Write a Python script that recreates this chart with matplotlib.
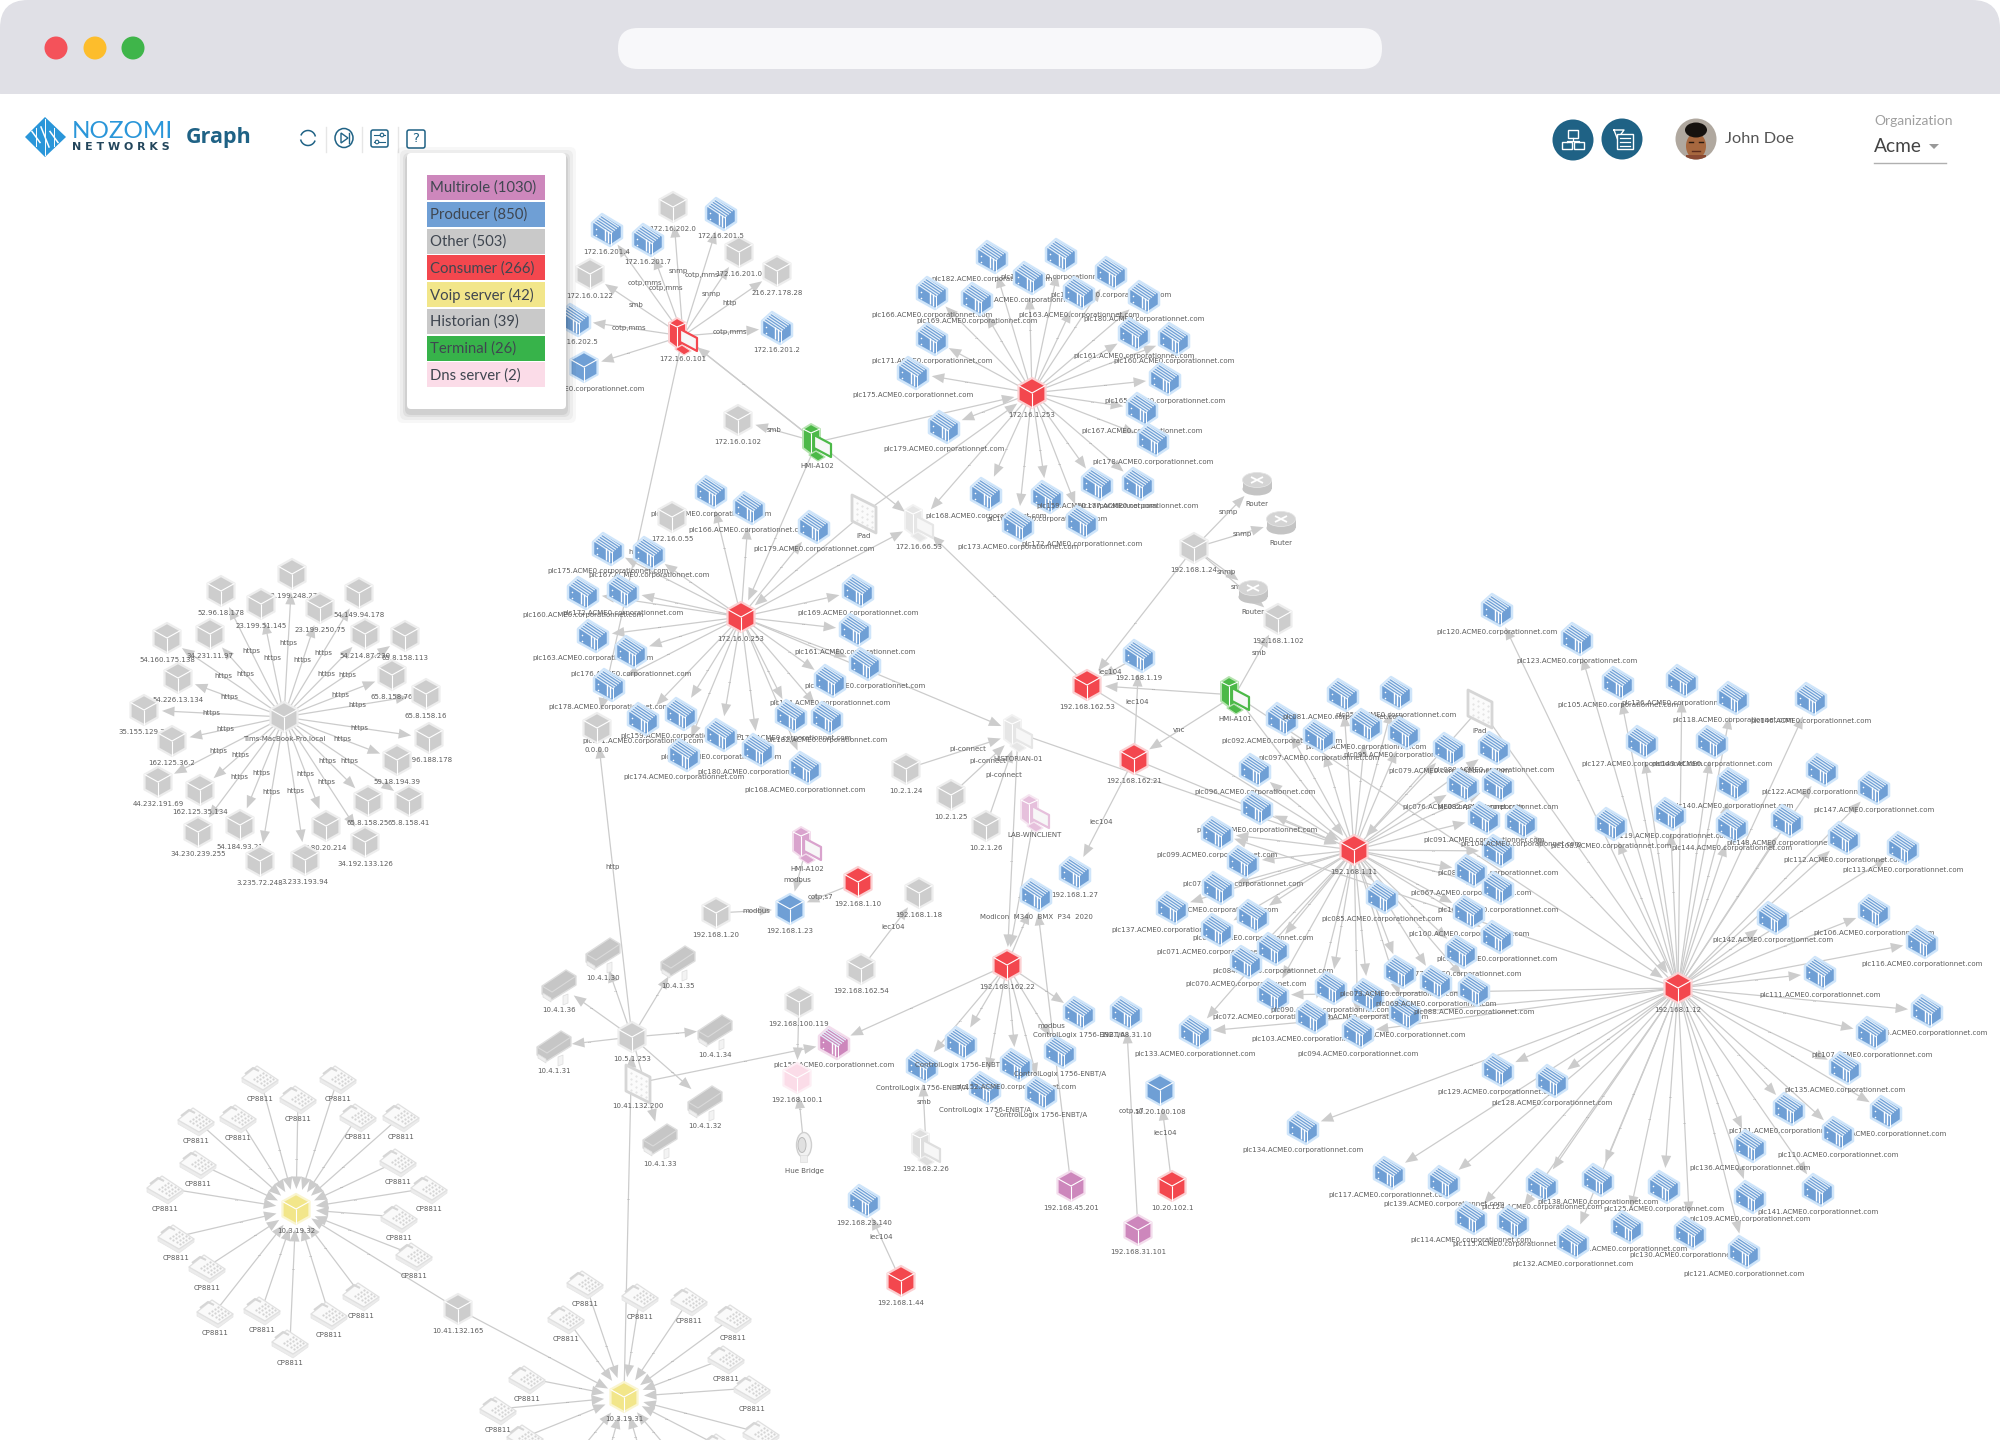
import matplotlib
matplotlib.use('Agg')
import matplotlib.pyplot as plt
from matplotlib.patches import Polygon, Circle, Ellipse, FancyBboxPatch, Rectangle
import numpy as np

# ---- data: (label, x, y), in pixels ----
D = '.ACME0.corporationnet.com'

legend_names = ['Multirole (1030)', 'Producer (850)', 'Other (503)', 'Consumer (266)',
                'Voip server (42)', 'Historian (39)', 'Terminal (26)', 'Dns server (2)']
legend_colors = ['#cd87bc', '#6f9fd5', '#c9c9c9', '#f3474e', '#f2e68a', '#c9c9c9', '#37b34a', '#fbdce8']

tims_hub = ('Tims-MacBook-Pro.local', 284, 717)
tims_leaves = [('23.199.248.27', 292, 574), ('52.96.18.178', 221, 591), ('23.199.51.145', 261, 604),
               ('23.199.250.75', 320, 608), ('54.149.94.178', 359, 593), ('54.214.87.230', 365, 634),
               ('65.8.158.113', 405, 636), ('34.231.11.97', 210, 634), ('54.160.175.138', 167, 638),
               ('54.226.13.134', 178, 678), ('65.8.158.76', 392, 675), ('65.8.158.16', 426, 694),
               ('35.155.129.72', 144, 710), ('162.125.36.2', 172, 741), ('2.96.188.178', 429, 738),
               ('59.18.194.39', 397, 760), ('44.232.191.69', 158, 782), ('162.125.35.134', 200, 790),
               ('65.8.158.25', 368, 801), ('65.8.158.41', 409, 801), ('34.230.239.255', 198, 832),
               ('54.184.93.21', 240, 825), ('3.80.20.214', 326, 826), ('34.192.133.126', 365, 842),
               ('3.235.72.248', 260, 861), ('3.233.193.94', 305, 860)]

hub_a = ('172.16.0.101', 683, 336)
a_servers = [('172.16.201.5', 721, 214, 'cotp,mms'), ('172.16.201.4', 607, 230, 'cotp,mms'),
             ('172.16.201.7', 648, 240, 'cotp,mms'), ('172.16.201.2', 777, 328, 'cotp,mms'),
             ('172.16.202.5', 575, 320, 'cotp,mms')]
a_cubes = [('172.16.202.0', 673, 207, 'snmp'), ('172.16.201.0', 739, 252, 'snmp'),
           ('216.27.178.28', 777, 271, 'http'), ('172.16.0.122', 590, 274, 'smb')]
a_plain = ('plc177' + D, 584, 367)

hub_b = ('172.16.1.253', 1032, 393)
b_servers = [('plc182', 992, 257), ('plc176', 1061, 255), ('plc170', 1029, 278), ('plc162', 1111, 273),
             ('plc166', 932, 293), ('plc169', 977, 299), ('plc163', 1079, 293), ('plc180', 1144, 297),
             ('plc171', 932, 339), ('plc161', 1134, 334), ('plc160', 1174, 339), ('plc175', 913, 373),
             ('plc165', 1165, 379), ('plc179', 944, 427), ('plc167', 1142, 409), ('plc178', 1153, 440),
             ('plc168', 986, 494), ('plc164', 1047, 497), ('plc159', 1097, 484), ('plc177', 1138, 484),
             ('plc173', 1018, 525), ('plc172', 1082, 522)]

hub_c = ('172.16.0.253', 741, 617)
c_servers = [('plc170', 711, 492), ('plc166', 749, 508), ('plc179', 814, 527), ('plc175', 608, 549),
             ('plc167', 649, 553), ('plc160', 583, 593), ('plc172', 623, 591), ('plc169', 858, 591),
             ('plc161', 855, 630), ('plc163', 593, 636), ('plc176', 631, 652), ('plc165', 865, 664),
             ('plc164', 830, 681), ('plc178', 609, 685), ('plc173', 791, 716), ('plc182', 827, 718),
             ('plc159', 681, 714), ('plc171', 643, 719), ('plc177', 721, 735), ('plc180', 758, 750),
             ('plc174', 684, 755), ('plc168', 805, 768)]

hub_d = ('192.168.1.11', 1354, 850)
d_servers = [('plc092', 1282, 719), ('plc081', 1343, 695), ('plc058', 1396, 693), ('plc093', 1366, 725),
             ('plc097', 1319, 736), ('plc095', 1404, 733), ('plc096', 1255, 770), ('plc098', 1257, 808),
             ('plc099', 1217, 833), ('plc075', 1243, 862), ('plc074', 1218, 888), ('plc137', 1172, 908),
             ('plc083', 1253, 916), ('plc071', 1217, 930), ('plc084', 1273, 949), ('plc070', 1246, 962),
             ('plc072', 1273, 995), ('plc090', 1331, 988), ('plc089', 1368, 995), ('plc103', 1312, 1017),
             ('plc086', 1405, 1013), ('plc094', 1358, 1032), ('plc085', 1382, 897), ('plc079', 1449, 749),
             ('plc080', 1494, 748), ('plc076', 1463, 785), ('plc082', 1498, 785), ('plc091', 1484, 818),
             ('plc087', 1498, 851), ('plc067', 1471, 871), ('plc101', 1498, 888), ('plc100', 1469, 912),
             ('plc102', 1497, 937), ('plc077', 1461, 952), ('plc073', 1400, 972), ('plc069', 1436, 982),
             ('plc088', 1474, 990)]

hub_e = ('192.168.1.12', 1678, 988)
e_servers = [('plc120', 1497, 610), ('plc123', 1577, 639), ('plc105', 1618, 683), ('plc126', 1682, 681),
             ('plc118', 1733, 698), ('plc146', 1811, 699), ('plc127', 1642, 742), ('plc143', 1712, 742),
             ('plc140', 1733, 784), ('plc122', 1822, 770), ('plc147', 1874, 788), ('plc119', 1670, 814),
             ('plc144', 1732, 826), ('plc148', 1787, 821), ('plc108', 1611, 824), ('plc112', 1844, 838),
             ('plc113', 1903, 848), ('plc142', 1773, 918), ('plc106', 1874, 911), ('plc116', 1922, 942),
             ('plc111', 1820, 973), ('plc104', 1521, 822), ('plc196', 1927, 1011), ('plc107', 1872, 1033),
             ('plc135', 1845, 1068), ('plc149', 1886, 1112), ('plc131', 1789, 1109), ('plc110', 1838, 1133),
             ('plc136', 1750, 1146), ('plc141', 1818, 1190), ('plc109', 1750, 1197), ('plc129', 1498, 1070),
             ('plc128', 1552, 1081), ('plc134', 1303, 1128), ('plc117', 1389, 1173), ('plc139', 1444, 1182),
             ('plc124', 1542, 1185), ('plc138', 1598, 1180), ('plc125', 1664, 1187), ('plc114', 1471, 1218),
             ('plc115', 1513, 1222), ('plc150', 1627, 1227), ('plc132', 1573, 1242), ('plc130', 1690, 1233),
             ('plc121', 1744, 1252)]

voip_a = ('10.3.19.32', 296, 1209)
voip_a_phones = [(260, 1078), (338, 1078), (298, 1098), (196, 1120), (238, 1117), (358, 1116), (401, 1116),
                 (398, 1161), (198, 1163), (165, 1188), (429, 1188), (399, 1217), (176, 1237), (414, 1255),
                 (207, 1267), (361, 1295), (215, 1312), (262, 1309), (329, 1314), (290, 1342)]
voip_b = ('10.3.19.31', 624, 1397)
voip_b_phones = [(585, 1283), (640, 1296), (689, 1300), (566, 1318), (733, 1317), (726, 1358), (527, 1378),
                 (752, 1388), (498, 1409), (761, 1433), (525, 1437), (719, 1446), (560, 1475), (600, 1485),
                 (650, 1485), (690, 1475)]

hub_cam = ('10.5.1.253', 632, 1037)
cameras = [('10.4.1.30', 603, 953), ('10.4.1.35', 678, 961), ('10.4.1.36', 559, 985), ('10.4.1.34', 715, 1030),
           ('10.4.1.31', 554, 1046), ('10.4.1.32', 705, 1101), ('10.4.1.33', 660, 1139)]

hub_f = ('192.168.162.22', 1007, 965)
clogix = [('ControlLogix 1756-ENBT/A', 922, 1066), ('ControlLogix 1756-ENBT/A', 961, 1043),
          ('ControlLogix 1756-ENBT/A', 985, 1088), ('plc152' + D, 1016, 1065),
          ('ControlLogix 1756-ENBT/A', 1041, 1093), ('ControlLogix 1756-ENBT/A', 1060, 1052),
          ('ControlLogix 1756-ENBT/A', 1079, 1013)]

other_cubes = [('172.16.0.102', 738, 420), ('172.16.0.55', 672, 517), ('0.0.0.0', 597, 728),
               ('10.2.1.24', 906, 769), ('10.2.1.25', 951, 795), ('10.2.1.26', 986, 826),
               ('192.168.1.18', 919, 893), ('192.168.1.20', 716, 913), ('192.168.162.54', 861, 969),
               ('192.168.100.119', 799, 1002), ('10.41.132.165', 458, 1309), ('192.168.1.24', 1194, 548),
               ('192.168.1.102', 1278, 619)]
red_cubes = [('192.168.162.53', 1087, 685), ('192.168.162.21', 1134, 759), ('192.168.1.10', 858, 882),
             ('192.168.1.44', 901, 1281), ('10.20.102.1', 1172, 1186)]
blue_cubes = [('192.168.1.23', 790, 909), ('10.20.100.108', 1160, 1090)]
pink_cubes = [('192.168.45.201', 1071, 1186), ('192.168.31.101', 1138, 1230)]
misc_servers = [('192.168.1.19', 1139, 656), ('192.168.1.27', 1075, 873), ('Modicon  M340  BMX  P34  2020', 1036, 895),
                ('192.168.31.10', 1126, 1013), ('plc133' + D, 1195, 1032), ('192.168.23.140', 864, 1201)]
routers = [('Router', 1257, 483), ('Router', 1281, 522), ('Router', 1253, 591)]
ipads = [('iPad', 864, 513), ('iPad', 1480, 708), ('10.41.132.200', 638, 1083)]

# source, target, edge label
extra_edges = [('HMI-A102', '172.16.0.101', '...'), ('HMI-A102', '172.16.0.102', 'smb'),
               ('HMI-A102', '172.16.1.253', '...'), ('172.16.0.101', '172.16.66.53', '...'),
               ('172.16.1.253', '172.16.66.53', '...'), ('172.16.0.253', '172.16.66.53', '...'),
               ('192.168.162.53', '172.16.66.53', '...'), ('iPad1', '172.16.1.253', '...'),
               ('iPad1', '172.16.0.253', '...'), ('HMI-A102', '172.16.0.253', '...'),
               ('172.16.0.101', '0.0.0.0', 'http'), ('10.5.1.253', '0.0.0.0', 'http'),
               ('172.16.0.253', 'HISTORIAN-01', '...'), ('10.2.1.24', 'HISTORIAN-01', 'pi-connect'),
               ('10.2.1.25', 'HISTORIAN-01', 'pi-connect'), ('10.2.1.26', 'HISTORIAN-01', 'pi-connect'),
               ('192.168.1.19', '192.168.162.53', 'iec104'), ('192.168.162.21', '192.168.1.19', 'iec104'),
               ('HMI-A101', '192.168.162.21', 'vnc'), ('HMI-A101', '192.168.162.53', '...'),
               ('HMI-A101', '192.168.1.102', 'smb'), ('192.168.1.24', 'Router0', 'snmp'),
               ('192.168.1.24', 'Router1', 'snmp'), ('192.168.1.24', 'Router2', 'snmp'),
               ('192.168.1.24', '192.168.162.53', '...'), ('192.168.1.24', '192.168.1.102', 'snmp'),
               ('192.168.162.21', '192.168.1.27', 'iec104'), ('HISTORIAN-01', '192.168.162.22', '...'),
               ('192.168.162.22', 'Modicon  M340  BMX  P34  2020', '...'), ('LAB-WINCLIENT', '192.168.162.22', '...'),
               ('192.168.45.201', 'Modicon  M340  BMX  P34  2020', 'modbus'), ('192.168.31.101', '192.168.31.10', 'cotp,s7'),
               ('10.20.102.1', '10.20.100.108', 'iec104'), ('192.168.1.44', '192.168.23.140', 'iec104'),
               ('Hue Bridge', '192.168.100.1', '...'), ('192.168.100.119', '192.168.100.1', '...'),
               ('10.41.132.200', 'plc158', '...'), ('192.168.162.22', 'plc158', '...'),
               ('192.168.162.54', '192.168.1.18', 'iec104'), ('192.168.1.20', '192.168.1.23', 'modbus'),
               ('192.168.1.10', '192.168.1.23', 'cotp,s7'), ('HMI-A102b', '192.168.1.23', 'modbus'),
               ('192.168.2.26', 'ControlLogix0', 'smb'), ('10.41.132.165', '10.3.19.32', '...'),
               ('10.41.132.165', '10.3.19.31', '...'), ('10.3.19.31', '10.5.1.253', '...'),
               ('192.168.162.53', '192.168.1.11', '...'), ('192.168.162.21', '192.168.1.11', '...'),
               ('HISTORIAN-01', '192.168.1.11', '...'), ('HMI-A101', '192.168.1.11', '...'),
               ('HMI-A101', '192.168.1.12', '...'), ('iPad2', '192.168.1.11', '...'), ('iPad2', '192.168.1.12', '...'),
               ('192.168.1.11', 'plc133' + D, '...'), ('192.168.1.12', 'plc133' + D, '...'),
               ('192.168.1.12', 'plc072', '...'), ('192.168.1.12', 'plc099', '...'), ('192.168.1.12', 'plc094', '...')]

BLUE, BLUE_H = '#6f9fd5', '#cfe5fa'
GREY, GREY_H = '#cdcdcd', '#ededed'
RED, RED_H = '#f3474e', '#fbd0d2'
PINK, PINK_H = '#cd87bc', '#f3dcec'
YEL, YEL_H = '#f2e68a', '#faf5cf'
DNS, DNS_H = '#fbdce8', '#fdeef4'
TEXT = '#5c5c5c'
LINE = '#cccccc'
NAVY = '#1f6285'
FONT = 'DejaVu Sans'

fig = plt.figure(figsize=(20, 14.4), dpi=100)
ax = fig.add_axes([0, 0, 1, 1])
ax.set_xlim(0, 2000)
ax.set_ylim(1440, 0)
ax.axis('off')


def poly(pts, fc, ec='none', lw=0, z=5, **kw):
    ax.add_patch(Polygon(pts, closed=True, fc=fc, ec=ec, lw=lw, zorder=z, joinstyle='round', **kw))


def seg(xs, ys, color='white', lw=0.8, z=5):
    ax.plot(xs, ys, color=color, lw=lw, zorder=z, solid_capstyle='butt')


def label(x, y, s, size=5.0, color=TEXT, z=5, **kw):
    ax.text(x, y, s, fontsize=size, color=color, ha='center', va='center', family=FONT, zorder=z, **kw)


def cube(x, y, fc, halo, name=None):
    w, h = 13.5, 15
    hexa = [(x, y - h), (x + w, y - h / 2), (x + w, y + h / 2), (x, y + h), (x - w, y + h / 2), (x - w, y - h / 2)]
    poly(hexa, fc, ec=halo, lw=1.6)
    seg([x - w, x, x + w], [y - h / 2, y, y - h / 2], lw=0.8)
    seg([x, x], [y, y + h], lw=0.8)
    if name:
        label(x, y + 22, name)


def server(x, y, fc=BLUE, halo=BLUE_H, name=None):
    o = [(x - 5, y - 16), (x + 15, y - 4), (x + 15, y + 8), (x + 3, y + 16), (x - 15, y + 6), (x - 15, y - 7)]
    poly(o, fc, ec=halo, lw=1.8)
    # ribs on the roof
    for t in np.linspace(0.12, 0.88, 5):
        x0, y0 = x - 15 + 10 * t, y - 7 - 9 * t
        seg([x0, x0 + 18], [y0, y0 + 12], color='#e4effa', lw=0.9)
    seg([x - 2, x - 2], [y - 1, y + 11], lw=1.0)
    seg([x + 1, x + 1], [y + 1, y + 13], lw=1.0)
    seg([x + 3.5, x + 3.5], [y + 2, y + 15], lw=0.7)
    seg([x - 11, x - 10], [y - 1, y], lw=1.0)
    seg([x - 11, x - 10], [y + 5, y + 6], lw=1.0)
    if name:
        label(x, y + 22, name)


def terminal(x, y, fc, halo, name=None, dy=24):
    tw = [(x - 14, y - 13), (x - 6, y - 18), (x + 3, y - 13), (x + 3, y + 8), (x - 6, y + 12), (x - 14, y + 6)]
    poly(tw, fc, ec=halo, lw=1.4)
    seg([x - 14, x - 6, x + 3], [y - 13, y - 9, y - 13], lw=0.8)
    seg([x - 6, x - 6], [y - 9, y + 12], lw=0.8)
    mon = [(x - 3, y - 7), (x + 14, y + 2), (x + 14, y + 15), (x - 3, y + 6)]
    poly(mon, '#f7f7f7', ec=fc, lw=1.6)
    kb = [(x - 8, y + 13), (x - 1, y + 9), (x + 8, y + 15), (x + 1, y + 19)]
    poly(kb, fc, ec=halo, lw=0.9)
    if name:
        label(x, y + dy, name)


def phone(x, y, name='CP8811'):
    side = [(x - 18, y), (x + 3, y + 12), (x + 18, y + 2), (x + 18, y + 5), (x + 3, y + 16), (x - 18, y + 4)]
    poly(side, '#ececec', ec='#e4e4e4', lw=0.5)
    body = [(x - 18, y), (x - 3, y - 12), (x + 18, y + 2), (x + 3, y + 12)]
    poly(body, '#fafafa', ec='#e0e0e0', lw=0.9)
    seg([x - 15, x - 7, x - 1], [y - 4, y - 10, y - 7], color='#d6d6d6', lw=1.5)
    # keypad
    for i in range(4):
        for j in range(4):
            ax.plot(x - 6 + i * 3.4 + j * 3, y - 1 + i * 2 - j * 1.8 + 1.5, '.', ms=1.1, color='#cfcfcf', zorder=5)
    if name and y + 21 < 1432:
        label(x, y + 21, name)


def camera(x, y, name):
    poly([(x - 17, y + 1), (x + 7, y - 15), (x + 17, y - 9), (x + 17, y + 0), (x - 7, y + 15), (x - 17, y + 9)],
         '#c6c6c6', ec='#dedede', lw=1.0)
    seg([x - 17, x - 7, x + 17], [y + 1, y + 7, y - 9], color='#dadada', lw=0.8)
    poly([(x - 16, y + 8), (x - 8, y + 13), (x - 8, y + 17), (x - 16, y + 12)], '#eeeeee', ec='#dddddd', lw=0.5)
    poly([(x + 4, y + 11), (x + 9, y + 9), (x + 9, y + 18), (x + 4, y + 20)], '#f3f3f3', ec='#dddddd', lw=0.5)
    label(x, y + 25, name)


def ipad(x, y, name):
    poly([(x - 12, y - 18), (x + 12, y - 6), (x + 12, y + 20), (x - 12, y + 8)], '#fbfbfb', ec='#d6d6d6', lw=2.0)
    for i in range(4):
        for j in range(4):
            ax.plot(x - 7 + i * 5, y - 10 + i * 2.5 + j * 5.5, '.', ms=0.9, color='#dddddd', zorder=5)
    label(x, y + 23, name)


def router(x, y, name):
    ax.add_patch(Rectangle((x - 14.5, y - 3), 29, 9, fc='#c4c4c4', ec='none', zorder=5))
    ax.add_patch(Ellipse((x, y + 6), 29, 13, fc='#c4c4c4', ec='none', zorder=5))
    ax.add_patch(Ellipse((x, y - 3), 29, 15, fc='#d4d4d4', ec='#e4e4e4', lw=0.6, zorder=5))
    seg([x - 6, x + 6], [y - 6, y], lw=1.3)
    seg([x - 6, x + 6], [y, y - 6], lw=1.3)
    label(x, y + 21, name)


def hue(x, y, name):
    ax.add_patch(Ellipse((x, y - 3), 15, 25, fc='#f2f2f2', ec='#cfcfcf', lw=1.0, zorder=5))
    ax.add_patch(Ellipse((x - 2, y - 3), 8, 15, fc='#e0e0e0', ec='#bbbbbb', lw=0.7, zorder=5))
    ax.add_patch(Rectangle((x - 4, y + 7), 7, 7, fc='#eeeeee', ec='#dddddd', lw=0.5, zorder=5))
    label(x, y + 23, name)


def edge(a, b, text='...', gap=18, head=12.5, t=0.55):
    ax_, ay_ = a
    bx_, by_ = b
    d = np.array([bx_ - ax_, by_ - ay_], dtype=float)
    n = np.hypot(*d)
    u = d / n
    tip = np.array(b) - u * gap
    base = tip - u * head
    perp = np.array([-u[1], u[0]])
    ax.plot([ax_, base[0]], [ay_, base[1]], color=LINE, lw=0.9, zorder=1)
    poly([tip, base + perp * 5, base - perp * 5], LINE, z=2)
    if text:
        lx, ly = ax_ + d[0] * t, ay_ + d[1] * t
        label(lx, ly, text, size=5.0 if text != '...' else 3.2, z=3)


# ---- where everything is, used by the edges ----
pos = {}
for group in [tims_leaves, a_servers, a_cubes, other_cubes, red_cubes, blue_cubes, pink_cubes, misc_servers, cameras]:
    for row in group:
        pos[row[0]] = (row[1], row[2])
for n, x, y in [tims_hub, hub_a, hub_b, hub_c, hub_d, hub_e, hub_cam, hub_f, voip_a, voip_b]:
    pos[n] = (x, y)
for row in d_servers:
    pos[row[0]] = (row[1], row[2])
pos.update({'HMI-A102': (817, 442), 'HMI-A101': (1235, 695), 'HMI-A102b': (807, 845), 'LAB-WINCLIENT': (1035, 813),
            'HISTORIAN-01': (1018, 733), '172.16.66.53': (919, 523), '192.168.2.26': (926, 1147),
            'Hue Bridge': (804, 1148), '192.168.100.1': (797, 1078), 'plc158': (834, 1043),
            'iPad1': ipads[0][1:], 'iPad2': ipads[1][1:], '10.41.132.200': ipads[2][1:],
            'Router0': routers[0][1:], 'Router1': routers[1][1:], 'Router2': routers[2][1:],
            'ControlLogix0': clogix[0][1:]})

# ---- edges ----
for n, x, y in tims_leaves:
    edge(tims_hub[1:], (x, y), 'https', t=0.52)
for n, x, y, p in a_servers + a_cubes:
    edge(hub_a[1:], (x, y), p, t=0.5)
edge(hub_a[1:], a_plain[1:])
for hub, leaves in [(hub_b, b_servers), (hub_c, c_servers), (hub_d, d_servers), (hub_e, e_servers)]:
    for n, x, y in leaves:
        edge(hub[1:], (x, y), gap=19)
for n, x, y in cameras:
    edge(hub_cam[1:], (x, y))
for n, x, y in clogix:
    edge(hub_f[1:], (x, y))
for xy in voip_a_phones:
    edge(xy, voip_a[1:], gap=20)
for xy in voip_b_phones:
    edge(xy, voip_b[1:], gap=20)
for a, b, txt in extra_edges:
    edge(pos[a], pos[b], txt)

# ---- nodes ----
for n, x, y in tims_leaves:
    cube(x, y, GREY, GREY_H, n)
cube(tims_hub[1], tims_hub[2], GREY, GREY_H)
label(tims_hub[1], tims_hub[2] + 22, tims_hub[0])

for n, x, y, p in a_cubes:
    cube(x, y, GREY, GREY_H, n)
for n, x, y, p in a_servers:
    server(x, y, name=n)
cube(a_plain[1], a_plain[2], BLUE, BLUE_H, a_plain[0])
terminal(hub_a[1], hub_a[2], RED, RED_H, hub_a[0], dy=23)

for hub, leaves in [(hub_b, b_servers), (hub_c, c_servers), (hub_d, d_servers), (hub_e, e_servers)]:
    for n, x, y in leaves:
        server(x, y, name=n + D)
    cube(hub[1], hub[2], RED, RED_H, hub[0])

for n, x, y in other_cubes:
    cube(x, y, GREY, GREY_H, n)
for n, x, y in red_cubes:
    cube(x, y, RED, RED_H, n)
for n, x, y in blue_cubes:
    cube(x, y, BLUE, BLUE_H, n)
for n, x, y in pink_cubes:
    cube(x, y, PINK, PINK_H, n)
for n, x, y in misc_servers:
    server(x, y, name=n)
for n, x, y in clogix:
    server(x, y, name=n)
cube(hub_f[1], hub_f[2], RED, RED_H, hub_f[0])
cube(hub_cam[1], hub_cam[2], GREY, GREY_H, hub_cam[0])
for n, x, y in cameras:
    camera(x, y, n)
for n, x, y in routers:
    router(x, y, n)
for n, x, y in ipads:
    ipad(x, y, n)

server(834, 1043, PINK, PINK_H, 'plc158' + D)
cube(797, 1078, DNS, DNS_H, '192.168.100.1')
hue(804, 1148, 'Hue Bridge')
terminal(817, 442, '#4cb948', '#b6e3b0', 'HMI-A102')
terminal(1235, 695, '#4cb948', '#b6e3b0', 'HMI-A101')
terminal(807, 845, '#d9a3cd', '#f3dcec', 'HMI-A102')
terminal(1035, 813, '#e6c0dc', '#f6e6f1', 'LAB-WINCLIENT', dy=22)
terminal(919, 523, '#e6e6e6', '#f2f2f2', '172.16.66.53')
terminal(1018, 733, '#e6e6e6', '#f2f2f2', 'HISTORIAN-01', dy=26)
terminal(926, 1147, '#dedede', '#f0f0f0', '192.168.2.26', dy=22)

for xy in voip_a_phones + voip_b_phones:
    phone(*xy)
cube(voip_a[1], voip_a[2], YEL, YEL_H, voip_a[0])
cube(voip_b[1], voip_b[2], YEL, YEL_H, voip_b[0])

# ---- browser chrome ----
ax.add_patch(FancyBboxPatch((0, 0), 2000, 120, boxstyle='round,pad=0,rounding_size=28', fc='#e0e0e6', ec='none', zorder=20))
ax.add_patch(Rectangle((0, 94), 2000, 60, fc='white', ec='none', zorder=20))
ax.add_patch(FancyBboxPatch((618, 28), 764, 41, boxstyle='round,pad=0,rounding_size=20', fc='#f8f8fa', ec='none', zorder=21))
for cx, col in zip([56, 95, 133], ['#f4525a', '#fdbd2c', '#3fb54a']):
    ax.add_patch(Circle((cx, 48), 11.5, fc=col, ec='none', zorder=21))

# logo
ax.add_patch(Polygon([(45, 117), (66, 137), (45, 157), (25, 137)], fc='#2a96d9', ec='none', zorder=21))
for dx in [-9, 0, 9]:
    ax.plot([45 + dx - 4, 45 + dx + 4], [127 + abs(dx) / 2, 147 - abs(dx) / 2], color='white', lw=1.1, zorder=22)
    ax.plot([45 + dx, 45 + dx], [119 + abs(dx), 155 - abs(dx)], color='white', lw=0.7, zorder=22)
ax.text(72, 131, 'NOZOMI', fontsize=17.5, color='#2a96d9', family='Lato', va='center', ha='left', zorder=21)
ax.text(72, 147, 'N E T W O R K S', fontsize=7.9, color='#23465c', family='DejaVu Sans', weight='bold', va='center', ha='left', zorder=21)
ax.text(186, 137.5, 'Graph', fontsize=15.5, color=NAVY, family='Open Sans', weight='bold', va='center', ha='left', zorder=21)

# toolbar
for sx in [326, 362, 398]:
    ax.plot([sx, sx], [127, 152], color='#e6e6e6', lw=1, zorder=21)
th = np.linspace(0.3, 2.7, 30)
ax.plot(308 + 7.5 * np.cos(th), 138 - 7.5 * np.sin(th), color=NAVY, lw=1.1, zorder=21)
ax.plot(308 - 7.5 * np.cos(th), 138 + 7.5 * np.sin(th), color=NAVY, lw=1.1, zorder=21)
ax.add_patch(Ellipse((344, 138), 18, 19, fc='none', ec=NAVY, lw=1.1, zorder=21))
ax.add_patch(Polygon([(341, 133), (341, 143), (348, 138)], fc='none', ec=NAVY, lw=1, zorder=21))
ax.plot([349, 349], [133, 143], color=NAVY, lw=1, zorder=21)
ax.add_patch(FancyBboxPatch((371, 130), 17, 17, boxstyle='round,pad=0,rounding_size=2', fc='none', ec=NAVY, lw=1.1, zorder=21))
ax.plot([374, 385], [135, 135], color=NAVY, lw=0.8, zorder=21)
ax.plot([374, 385], [142, 142], color=NAVY, lw=0.8, zorder=21)
ax.add_patch(Circle((382, 135), 1.8, fc='white', ec=NAVY, lw=0.8, zorder=22))
ax.add_patch(Circle((377, 142), 1.8, fc='white', ec=NAVY, lw=0.8, zorder=22))
ax.add_patch(FancyBboxPatch((407, 130), 18, 18, boxstyle='round,pad=0,rounding_size=2', fc='none', ec=NAVY, lw=1.1, zorder=21))
ax.text(416, 139, '?', fontsize=9.5, color=NAVY, family='DejaVu Sans', ha='center', va='center', zorder=21)

# legend panel
for grow, al in [(10, 0.03), (7, 0.04), (4, 0.05), (2, 0.07)]:
    ax.add_patch(FancyBboxPatch((407 - grow, 153 - grow + 4), 159 + 2 * grow, 256 + 2 * grow,
                                boxstyle='round,pad=0,rounding_size=6', fc='black', alpha=al, ec='none', zorder=30))
ax.add_patch(FancyBboxPatch((407, 153), 159, 256, boxstyle='round,pad=0,rounding_size=4', fc='white', ec='none', zorder=31))
for i, (nm, col) in enumerate(zip(legend_names, legend_colors)):
    ry = 175 + i * 26.75
    ax.add_patch(Rectangle((427, ry), 118, 25, fc=col, ec='none', zorder=32))
    ax.text(429.5, ry + 13, nm, fontsize=10.7, color='#3f4650', family='Lato', va='center', ha='left', zorder=33)

# right of the header
ax.add_patch(Circle((1573, 140), 20.5, fc=NAVY, ec='none', zorder=21))
ax.add_patch(Circle((1622, 139), 20.5, fc=NAVY, ec='none', zorder=21))
for bx, by, bw, bh in [(1568, 130, 10, 8), (1562, 142, 10, 7), (1574, 142, 10, 7)]:
    ax.add_patch(Rectangle((bx, by), bw, bh, fc='none', ec='white', lw=1, zorder=22))
ax.plot([1573, 1573, 1567, 1567], [138, 141, 141, 142], color='white', lw=0.9, zorder=22)
ax.plot([1573, 1579, 1579], [141, 141, 142], color='white', lw=0.9, zorder=22)
ax.plot([1614, 1624, 1619, 1619, 1614], [130, 130, 137, 143, 130], color='white', lw=1, zorder=22)
ax.add_patch(Rectangle((1617, 134), 16, 15, fc=NAVY, ec='white', lw=1, zorder=22))
for ly in [138, 142, 146]:
    ax.plot([1620, 1630], [ly, ly], color='white', lw=0.9, zorder=23)

av = Circle((1696, 139), 20.5, fc='#b0a89f', ec='none', zorder=21)
ax.add_patch(av)
for art in [Ellipse((1696, 146), 20, 26, fc='#a7683f', ec='none', zorder=23),
            Ellipse((1696, 130), 22, 15, fc='#16120f', ec='none', zorder=24),
            Rectangle((1686, 155), 20, 6, fc='#8a4a33', ec='none', zorder=23)]:
    ax.add_patch(art)
    art.set_clip_path(av)
ax.plot([1689, 1693], [142, 142], color='#2a1a10', lw=1, zorder=26)
ax.plot([1699, 1703], [142, 142], color='#2a1a10', lw=1, zorder=26)
ax.plot([1692, 1700], [151, 151], color='#5e2c1e', lw=1, zorder=26)

ax.text(1725, 139, 'John Doe', fontsize=11.8, color='#555555', family='Lato', va='center', ha='left', zorder=21)
ax.text(1874, 121, 'Organization', fontsize=10, color='#a0a0a0', family='Lato', va='center', ha='left', zorder=21)
ax.text(1874, 147, 'Acme', fontsize=13.8, color='#444444', family='Lato', va='center', ha='left', zorder=21)
ax.add_patch(Polygon([(1929, 144), (1939, 144), (1934, 149)], fc='#999999', ec='none', zorder=21))
ax.plot([1874, 1946], [162.5, 162.5], color='#b0b0b0', lw=1, zorder=21)

fig.savefig('out.png', dpi=100, facecolor='white')
